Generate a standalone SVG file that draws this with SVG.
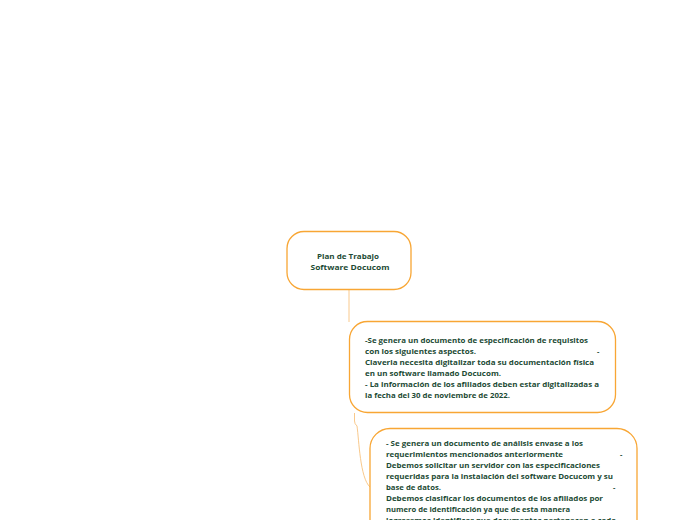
<svg xmlns="http://www.w3.org/2000/svg" width="696" height="520" viewBox="0 0 696 520">
<style>
.node{fill:#ffffff;stroke:#f8a634;stroke-width:1.3}
.conn{fill:none;stroke:#f9c98c;stroke-width:1}
.t{font-family:"Open Sans","Noto Sans",sans-serif;font-weight:700;font-size:7.3px;fill:#1d4b35}
</style>
<rect width="696" height="520" fill="#ffffff"/>
<g id="connectors">
<path class="conn" d="M349,290 L349,322"/>
<path class="conn" d="M354.5,413 L354.5,421 Q354.5,424 357,426 C359,440 360,478 370,487"/>
</g>
<g id="root">
<rect class="node" x="287" y="231.5" width="124" height="58" rx="17"/>
<text class="t" x="348" y="259" text-anchor="middle" textLength="62" lengthAdjust="spacingAndGlyphs">Plan de Trabajo</text>
<text class="t" x="350" y="270" text-anchor="middle" textLength="79" lengthAdjust="spacingAndGlyphs">Software Docucom</text>
</g>
<g id="node1">
<rect class="node" x="349.5" y="321.5" width="266" height="91" rx="18"/>
<text class="t" x="365" y="342.5" textLength="223" lengthAdjust="spacingAndGlyphs">-Se genera un documento de especificación de requisitos</text>
<text class="t" x="365" y="353.5" textLength="111" lengthAdjust="spacingAndGlyphs">con los siguientes aspectos.</text>
<text class="t" x="597" y="353.5">-</text>
<text class="t" x="365" y="364.5" textLength="229" lengthAdjust="spacingAndGlyphs">Claveria necesita digitalizar toda su documentación física</text>
<text class="t" x="365" y="375.5" textLength="136" lengthAdjust="spacingAndGlyphs">en un software llamado Docucom.</text>
<text class="t" x="365" y="386.5" textLength="234" lengthAdjust="spacingAndGlyphs">- La información de los afiliados deben estar digitalizadas a</text>
<text class="t" x="365" y="397.5" textLength="145" lengthAdjust="spacingAndGlyphs">la fecha del 30 de noviembre de 2022.</text>
</g>
<g id="node2">
<rect class="node" x="370" y="428.5" width="267" height="130" rx="20"/>
<text class="t" x="386" y="446" textLength="197" lengthAdjust="spacingAndGlyphs">- Se genera un documento de análisis envase a los</text>
<text class="t" x="386" y="457" textLength="177" lengthAdjust="spacingAndGlyphs">requerimientos mencionados anteriormente</text>
<text class="t" x="620" y="457">-</text>
<text class="t" x="386" y="468" textLength="214" lengthAdjust="spacingAndGlyphs">Debemos solicitar un servidor con las especificaciones</text>
<text class="t" x="386" y="479" textLength="227" lengthAdjust="spacingAndGlyphs">requeridas para la instalación del software Docucom y su</text>
<text class="t" x="386" y="490" textLength="55" lengthAdjust="spacingAndGlyphs">base de datos.</text>
<text class="t" x="613" y="490">-</text>
<text class="t" x="386" y="501" textLength="217" lengthAdjust="spacingAndGlyphs">Debemos clasificar los documentos de los afiliados por</text>
<text class="t" x="386" y="512" textLength="184" lengthAdjust="spacingAndGlyphs">numero de identificación ya que de esta manera</text>
<text class="t" x="386" y="523" textLength="230" lengthAdjust="spacingAndGlyphs">lograremos identificar que documentos pertenecen a cada</text>
</g>
</svg>
